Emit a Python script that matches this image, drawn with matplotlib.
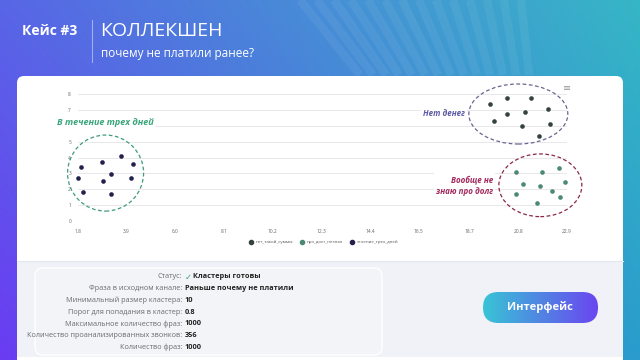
import numpy as np
import matplotlib.pyplot as plt
from matplotlib.patches import FancyBboxPatch, Ellipse
from matplotlib.lines import Line2D

plt.rcParams['font.family'] = ['Open Sans', 'DejaVu Sans']

# data: three clusters of phrases
x_ticks = [1.8, 3.9, 6.0, 8.1, 10.2, 12.3, 14.4, 16.5, 18.7, 20.8, 22.9]
y_ticks = [0, 1, 2, 3, 4, 5, 6, 7, 8]

money_x = [19.57, 20.32, 21.34, 22.09, 20.32, 21.10, 19.73, 20.95, 22.16, 21.69]
money_y = [7.37, 7.73, 7.77, 7.04, 6.74, 6.89, 6.30, 5.98, 6.09, 5.37]

debt_x = [20.70, 21.83, 22.56, 21.01, 21.74, 22.25, 22.82, 20.71, 22.59, 21.59]
debt_y = [3.11, 3.11, 3.34, 2.31, 2.20, 1.91, 2.44, 1.70, 1.51, 1.15]

days_x = [1.92, 1.79, 2.03, 2.85, 2.89, 3.21, 3.21, 3.66, 4.17, 4.09]
days_y = [3.38, 2.71, 1.85, 3.70, 2.55, 2.94, 1.72, 4.11, 3.59, 2.69]

series_names = ['нет_такой_суммы', 'про_долг_незнал', 'течение_трех_дней']
series_colors = ['#34433f', '#4b8a72', '#24204d']

info_labels = ['Статус:', 'Фраза в исходном канале:', 'Минимальный размер кластера:',
               'Порог для попадания в кластер:', 'Максимальное количество фраз:',
               'Количество проанализированных звонков:', 'Количество фраз:']
info_values = ['Кластеры готовы', 'Раньше почему не платили', '10', '0.8', '1000', '356', '1000']

W, H = 640, 360
fig = plt.figure(figsize=(6.4, 3.6), dpi=100)

# slide background
bg = fig.add_axes([0, 0, 1, 1])
bg.set_xlim(0, W)
bg.set_ylim(H, 0)
bg.axis('off')

tl = np.array([0x58, 0x66, 0xe6]) / 255
tr = np.array([0x36, 0xb6, 0xc6]) / 255
bl = np.array([0x6a, 0x3c, 0xf2]) / 255
br = np.array([0x2a, 0x9c, 0xcc]) / 255
u = np.linspace(0, 1, 160)[None, :, None]
v = np.linspace(0, 1, 90)[:, None, None]
grad = (1 - v) * ((1 - u) * tl + u * tr) + v * ((1 - u) * bl + u * br)
bg.imshow(grad, extent=(0, W, H, 0), aspect='auto', interpolation='bilinear', zorder=0)

# light stripes in the header
for k in range(14):
    x0 = 300 + k * 17
    bg.plot([x0, x0 + 60 - k * 4], [0, 75], color='white', alpha=0.06, lw=6,
            solid_capstyle='butt')

# header text
bg.text(22, 31, 'Кейс #3', color='white', fontsize=10, fontweight='bold', va='center')
bg.plot([92, 92], [20, 62], color='white', alpha=0.45, lw=0.8)
bg.text(100, 31, 'КОЛЛЕКШЕН', color='white', fontsize=14, va='center')
bg.text(101, 53, 'почему не платили ранее?', color='white', fontsize=8.5, va='center')

# white card + gray panel
bg.add_patch(FancyBboxPatch((17, 76), 606, 300, boxstyle='round,pad=0,rounding_size=7',
                            fc='white', ec='none'))
bg.add_patch(FancyBboxPatch((17, 261), 606, 96, boxstyle='square,pad=0',
                            fc='#f1f2f7', ec='none'))
bg.add_patch(FancyBboxPatch((35, 268), 347, 87, boxstyle='round,pad=0,rounding_size=8',
                            fc='#f3f4f8', ec='white', lw=1))
bg.plot([17, 623], [261, 261], color='#e4e6ee', lw=0.8)

# info table
for i, (lab, val) in enumerate(zip(info_labels, info_values)):
    yy = 277 + i * 11.7
    bg.text(182, yy, lab, ha='right', va='center', fontsize=5.2, color='#6a6a72')
    if i == 0:
        bg.text(185, yy, '✓', ha='left', va='center', fontsize=6, color='#3a9f6e',
                fontweight='bold', family=['DejaVu Sans'])
        bg.text(193, yy, val, ha='left', va='center', fontsize=5.3, color='#222',
                fontweight='bold')
    else:
        bg.text(185, yy, val, ha='left', va='center', fontsize=5.3, color='#222',
                fontweight='bold')

# button
btn = FancyBboxPatch((483, 292), 115, 31, boxstyle='round,pad=0,rounding_size=15.5',
                     fc='none', ec='none')
bg.add_patch(btn)
bu = np.linspace(0, 1, 100)[None, :, None]
c1 = np.array([0x38, 0xc4, 0xd6]) / 255
c2 = np.array([0x6a, 0x46, 0xf0]) / 255
bimg = bg.imshow(np.repeat((1 - bu) * c1 + bu * c2, 2, axis=0), extent=(483, 598, 323, 292),
                 aspect='auto', interpolation='bilinear', zorder=4)
bimg.set_clip_path(btn)
bg.text(540, 307.5, 'Интерфейс', ha='center', va='center', color='white', fontsize=8,
        fontweight='bold', zorder=5)
bg.text(567, 88, '≡', ha='center', va='center', color='#999', fontsize=7,
        family=['DejaVu Sans'])
bg.set_xlim(0, W)
bg.set_ylim(H, 0)

# chart
ax = fig.add_axes([78 / W, (H - 221) / H, 489 / W, 127 / H])
ax.set_xlim(1.8, 22.9)
ax.set_ylim(0, 8)
ax.set_facecolor('none')
for s in ax.spines.values():
    s.set_visible(False)
ax.set_xticks(x_ticks)
ax.set_xticklabels([f'{t:.1f}' for t in x_ticks])
ax.set_yticks(y_ticks)
ax.tick_params(length=0, labelsize=3.5, labelcolor='#666', pad=5.5)
ax.tick_params(axis='y', pad=5)
ax.grid(axis='y', color='#e8e8ec', lw=0.7)
ax.set_axisbelow(True)
# the "6" label sits under the annotation, as in the original
ax.get_yticklabels()[6].set_visible(False)

for xs, ys, c in zip([money_x, debt_x, days_x], [money_y, debt_y, days_y], series_colors):
    ax.scatter(xs, ys, s=11, color=c, zorder=3, clip_on=False, linewidths=0)

ell = [((2.99, 3.02), 3.28, 4.79, '#3f9a7c'),
       ((20.80, 6.74), 4.27, 3.78, '#6d6490'),
       ((21.75, 2.25), 3.58, 3.95, '#8a2848')]
for cen, w, h, c in ell:
    ax.add_patch(Ellipse(cen, w, h, fill=False, ec=c, lw=0.9, ls=(0, (3, 2)), clip_on=False))

box = dict(fc='white', ec='none', pad=1.5)
ax.text(0.9, 6.19, 'В течение трех дней', color='#3aa57c', fontsize=6.5, fontweight='bold',
        style='italic', va='center', ha='left', bbox=box, zorder=4)
ax.text(18.5, 6.80, 'Нет денег', color='#5c5aa6', fontsize=5.8, fontweight='bold',
        style='italic', va='center', ha='right', bbox=box, zorder=4)
ax.text(19.7, 2.25, 'Вообще не\nзнаю про долг', color='#a12a5e', fontsize=5.8,
        fontweight='bold', style='italic', va='center', ha='right', linespacing=1.4,
        bbox=box, zorder=4)

handles = [Line2D([], [], ls='', marker='o', ms=3, color=c) for c in series_colors]
ax.legend(handles, series_names, loc='upper center', bbox_to_anchor=(0.5, -0.12), ncol=3,
          frameon=False, fontsize=3.2, handletextpad=0.1, columnspacing=1.0,
          labelcolor='#555')

fig.savefig('out.png', dpi=100)
